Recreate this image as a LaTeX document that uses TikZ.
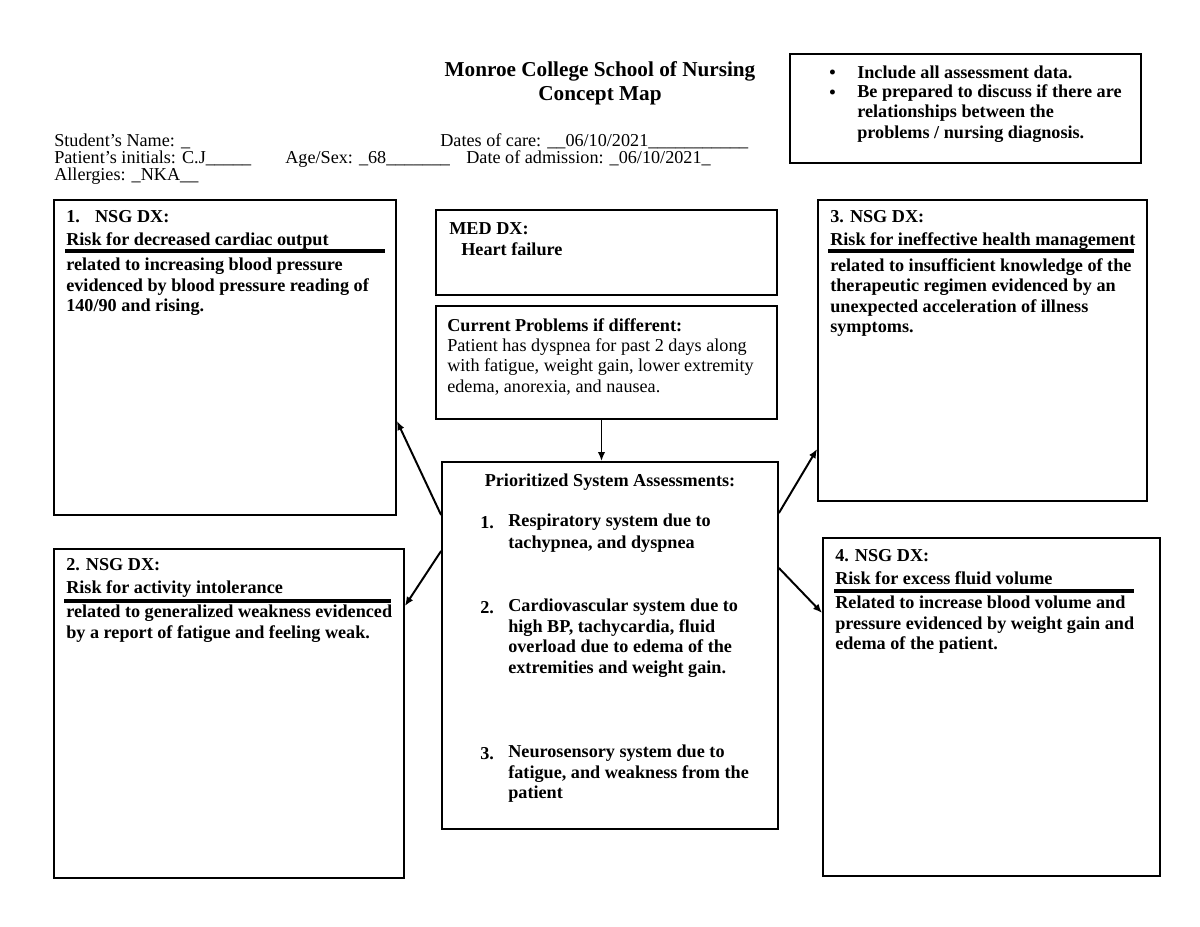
\documentclass[tikz,border=0pt]{standalone}
\usepackage{fontspec}
\setmainfont{Liberation Serif}
\usetikzlibrary{arrows.meta}
\usetikzlibrary{calc}
\usetikzlibrary{fit}

\tikzset{
    box/.style={draw, line width=1.2pt, inner sep=0pt},
    txt/.style={anchor=north west, align=left, inner sep=0pt, execute at begin node=\strut, font=\fontsize{12}{13.5}\selectfont\bfseries},
    normtxt/.style={txt, font=\fontsize{12}{13.5}\selectfont},
    uline/.style={line width=2pt},
    arr/.style={-{Latex[length=6pt,width=5pt]}, line width=1.3pt}
}

\begin{document}
\begin{tikzpicture}[x=0.66pt, y=-0.66pt]
        \useasboundingbox (0,0) rectangle (1200,927);

        % Kopf
        \node[anchor=base, inner sep=0pt, font=\fontsize{14}{16}\selectfont\bfseries] (title) at (600,76) {Monroe College School of Nursing};
        \node[anchor=base, inner sep=0pt, font=\fontsize{14}{16}\selectfont\bfseries] (subtitle) at (600,100) {Concept Map};

        \node[normtxt] (student) at (54,132) {Student’s Name: \_};
        \node[normtxt] (care) at (440,132) {Dates of care: \_\_06/10/2021\_\_\_\_\_\_\_\_\_\_\_};
        \node[normtxt] (initials) at (54,149) {Patient’s initials: C.J\_\_\_\_\_};
        \node[normtxt] (agesex) at (285,149) {Age/Sex: \_68\_\_\_\_\_\_\_};
        \node[normtxt] (admission) at (466,149) {Date of admission: \_06/10/2021\_};
        \node[normtxt] (allergies) at (54,166) {Allergies: \_NKA\_\_};

        % Hinweise
        \node[box, fit={(790,54) (1141,163)}] (notes) {};
        \node[txt] (dot1) at (829,64) {•};
        \node[txt] (dot2) at (829,84) {•};
        \node[txt] (note1) at (857,64) {Include all assessment data.};
        \node[txt] (note2) at (857,84) {Be prepared to discuss if there are\\relationships between the\\problems / nursing diagnosis.};

        % NSG DX 1
        \node[box, fit={(54,200) (396,515)}] (nsg1) {};
        \node[txt] (nsg1head) at (66,210) {1.\hspace{10pt}NSG DX:\\[1.5pt]Risk for decreased cardiac output};
        \draw[uline] (65,251) -- (385,251);
        \node[txt] (nsg1body) at (66,258) {related to increasing blood pressure\\evidenced by blood pressure reading of\\140/90 and rising.};

        % NSG DX 2
        \node[box, fit={(54,549) (404,878)}] (nsg2) {};
        \node[txt] (nsg2head) at (66,558) {2. NSG DX:\\[1.5pt]Risk for activity intolerance};
        \draw[uline] (64,601) -- (391,601);
        \node[txt] (nsg2body) at (66,605) {related to generalized weakness evidenced\\by a report of fatigue and feeling weak.};

        % NSG DX 3
        \node[box, fit={(818,200) (1147,501)}] (nsg3) {};
        \node[txt] (nsg3head) at (830,210) {3. NSG DX:\\[1.5pt]Risk for ineffective health management};
        \draw[uline] (828,251) -- (1134,251);
        \node[txt] (nsg3body) at (830,258) {related to insufficient knowledge of the\\therapeutic regimen evidenced by an\\unexpected acceleration of illness\\symptoms.};

        % NSG DX 4
        \node[box, fit={(823,538) (1160,876)}] (nsg4) {};
        \node[txt] (nsg4head) at (835,549) {4. NSG DX:\\[1.5pt]Risk for excess fluid volume};
        \draw[uline] (834,591) -- (1134,591);
        \node[txt] (nsg4body) at (835,596) {Related to increase blood volume and\\pressure evidenced by weight gain and\\edema of the patient.};

        % MED DX
        \node[box, fit={(436,210) (777,295)}] (med) {};
        \node[txt] (medhead) at (449,220) {MED DX:};
        \node[txt] (medbody) at (461,241) {Heart failure};

        % Aktuelle Probleme
        \node[box, fit={(436,306) (777,419)}] (current) {};
        \node[txt] (currenthead) at (447,317) {Current Problems if different:};
        \node[normtxt] (currentbody) at (447,338) {Patient has dyspnea for past 2 days along\\with fatigue, weight gain, lower extremity\\edema, anorexia, and nausea.};

        % Systeme
        \node[box, fit={(442,462) (778,829)}] (prio) {};
        \node[anchor=base, inner sep=0pt, font=\fontsize{12}{13.5}\selectfont\bfseries] (priohead) at (610,486) {Prioritized System Assessments:};
        \foreach \n/\y in {1/514, 2/599, 3/745}
            \node[txt] (num\n) at (480,\y) {\n.};
        \node[txt] (sys1) at (508,514) {Respiratory system due to\\[1pt]tachypnea, and dyspnea};
        \node[txt] (sys2) at (508,599) {Cardiovascular system due to\\high BP, tachycardia, fluid\\overload due to edema of the\\extremities and weight gain.};
        \node[txt] (sys3) at (508,745) {Neurosensory system due to\\fatigue, and weakness from the\\patient};

        % Pfeile
        \draw[arr] ($(current.south)+(-5,0)$) -- ($(current.south |- prio.north)+(-5,0)$);
        \draw[arr] (prio.west |- 0,515) -- (nsg1.east |- 0,421);
        \draw[arr] (prio.west |- 0,551) -- (nsg2.east |- 0,606);
        \draw[arr] (prio.east |- 0,513) -- (nsg3.west |- 0,449);
        \draw[arr] (prio.east |- 0,568) -- (nsg4.west |- 0,613);
\end{tikzpicture}
\end{document}
